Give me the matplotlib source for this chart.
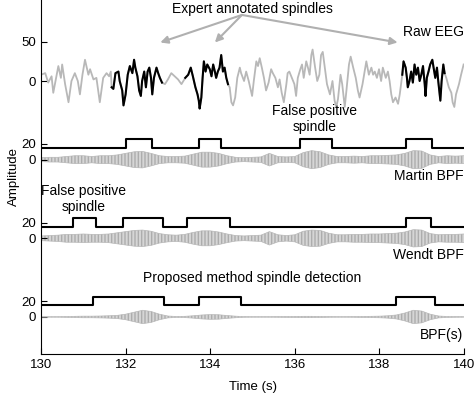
import numpy as np
import matplotlib
matplotlib.use("Agg")
import matplotlib.pyplot as plt

plt.rcParams['font.family'] = ['Liberation Sans', 'DejaVu Sans']
plt.rcParams['hatch.linewidth'] = 1.0

# 生のEEG（読み取り値）
raw_t = [130.00, 130.10, 130.17, 130.25, 130.29, 130.37, 130.41, 130.47, 130.50, 130.57,
         130.65, 130.69, 130.72, 130.80, 130.87, 130.92, 130.98, 131.04, 131.12, 131.16,
         131.24, 131.31, 131.35, 131.39, 131.47, 131.55, 131.61, 131.65, 131.67, 131.71,
         131.76, 131.83, 131.86, 131.92, 131.95, 132.00, 132.05, 132.10, 132.16, 132.20,
         132.23, 132.28, 132.32, 132.36, 132.39, 132.44, 132.48, 132.52, 132.56, 132.60,
         132.63, 132.67, 132.73, 132.77, 132.81, 132.86, 132.93, 133.00, 133.08, 133.16,
         133.24, 133.32, 133.41, 133.48, 133.54, 133.59, 133.65, 133.70, 133.73, 133.75,
         133.79, 133.82, 133.85, 133.89, 133.93, 133.99, 134.03, 134.07, 134.11, 134.14,
         134.18, 134.22, 134.26, 134.30, 134.34, 134.38, 134.42, 134.46, 134.50, 134.54,
         134.59, 134.64, 134.70, 134.73, 134.80, 134.85, 134.91, 134.99, 135.03, 135.09,
         135.13, 135.17, 135.22, 135.27, 135.32, 135.38, 135.44, 135.48, 135.54, 135.60,
         135.64, 135.69, 135.74, 135.80, 135.83, 135.87, 135.93, 135.99, 136.03, 136.07,
         136.13, 136.17, 136.21, 136.27, 136.31, 136.35, 136.39, 136.42, 136.48, 136.53,
         136.58, 136.62, 136.66, 136.71, 136.76, 136.83, 136.89, 136.94, 136.98, 137.02,
         137.08, 137.12, 137.18, 137.22, 137.28, 137.32, 137.38, 137.44, 137.49, 137.53,
         137.60, 137.65, 137.69, 137.75, 137.81, 137.85, 137.89, 137.94, 137.99, 138.04,
         138.08, 138.15, 138.20, 138.24, 138.28, 138.32, 138.38, 138.44, 138.48, 138.52,
         138.54, 138.57, 138.62, 138.65, 138.67, 138.71, 138.75, 138.79, 138.83, 138.87,
         138.91, 138.95, 138.99, 139.03, 139.07, 139.09, 139.12, 139.16, 139.20, 139.25,
         139.28, 139.32, 139.36, 139.39, 139.44, 139.47, 139.51, 139.54, 139.58, 139.64,
         139.70, 139.73, 139.77, 139.81, 139.88, 139.93, 139.99]
raw_v = [8, 10, -2, 6, -15, 8, 19, 4, 21, -4,
         -27, -12, 0, 10, 0, -17, 8, 27, 8, 15,
         2, 4, -12, -27, 4, 10, 6, 12, -8, -10,
         10, 12, 0, -12, -31, -17, 8, 19, 10, 27,
         17, 6, -12, -19, 0, 12, -8, 12, 17, 4,
         -17, 4, 17, 10, 4, -2, -4, 2, 10, 6,
         2, -4, 4, 8, 17, 6, -8, -17, -25, -35,
         -21, 4, 25, 12, 21, 15, 6, 21, 12, 4,
         12, 17, 33, 12, 17, 4, -4, -8, -27, -31,
         -21, 4, 17, 10, 0, 12, 0, -19, 0, 25,
         19, 29, 17, 4, -12, -2, 15, 10, 4, -8,
         2, -15, -27, -4, 10, 12, 4, -4, -19, 4,
         15, 21, 4, 25, 17, 8, 33, 40, 17, 0,
         8, 33, 37, 17, -4, -17, 0, -25, -33, -23,
         8, -4, -33, -12, 21, 31, 17, 4, -12, -21,
         -4, 12, 25, 8, 17, 8, 12, 4, 15, 0,
         17, 4, 12, 0, -17, -27, -21, -29, -17, 0,
         8, 25, 17, 4, -8, 0, 12, -2, 21, 8,
         17, 0, 8, 19, -4, -19, 4, 12, 21, 27,
         17, 4, 17, 0, -25, 0, 21, 10, 4, -8,
         -15, -27, -33, -17, -4, 8, 21]

# 専門家がアノテーションした紡錘波区間
expert = [(131.67, 132.86), (133.41, 134.42), (138.54, 139.54)]

# 各手法の検出区間
martin_det = [(132.00, 132.63), (133.73, 134.25), (136.12, 136.87), (138.62, 139.25)]
wendt_det = [(130.76, 131.30), (131.93, 132.88), (133.46, 134.47), (138.62, 139.23)]
proposed_det = [(131.22, 132.91), (133.74, 134.72), (138.40, 139.32)]

# BPF出力の包絡線（0.2秒ごと, 読み取り値）
env_t = [130.0 + 0.2 * i for i in range(51)]
martin_env = [2.5, 3, 3, 4, 5, 5, 4, 5, 5, 6,
              8, 10, 10.5, 8, 5, 4, 4, 4.5, 7, 9.5,
              9.5, 8, 5, 3, 2.5, 3, 3.5, 8, 4, 3.5,
              4, 9, 11.5, 10, 6, 4, 4, 4.5, 4, 5,
              5, 5.5, 6, 8, 11.5, 11, 6, 4, 5, 4.5, 5]
wendt_env = [3, 3.5, 4, 5, 5, 5.5, 5, 5, 5.5, 7,
             8.5, 10, 10.5, 9, 6, 4.5, 4, 5, 7.5, 9.5,
             9.5, 8, 5.5, 3.5, 3, 3.5, 4, 8.5, 4.5, 3.5,
             4.5, 9, 10.5, 10, 6.5, 4.5, 4.5, 5, 5, 5.5,
             5.5, 6, 6.5, 8, 11, 10.5, 6, 4.5, 5, 5, 5.5]
proposed_env = [0.3, 0.3, 0.3, 0.5, 0.8, 1, 1, 1.2, 1.5, 2,
                3.5, 6, 8.5, 7, 3.5, 1.2, 0.6, 0.8, 1.5, 2.5,
                3, 2.8, 1.8, 1, 0.4, 0.3, 0.3, 0.3, 0.4, 0.5,
                0.6, 0.8, 0.8, 0.6, 0.4, 0.3, 0.3, 0.4, 0.6, 0.8,
                1, 1.5, 2.5, 5, 8.5, 7.5, 3.5, 1.2, 0.6, 0.4, 0.3]

# 各トレースのオフセット
off_raw, off_martin, off_wendt, off_prop = 347, 247, 147, 47
low, high = 15, 26
gray = '#b8b8b8'


def square_wave(intervals, base):
    xs = [130.0]
    ys = [base + low]
    for s, e in intervals:
        xs += [s, s, e, e]
        ys += [base + low, base + high, base + high, base + low]
    xs.append(140.0)
    ys.append(base + low)
    return xs, ys


fig = plt.figure(figsize=(4.74, 3.95), dpi=100)
ax = fig.add_axes([0.0865, 0.104, 0.8925, 0.896])

# 生EEG
rt = np.array(raw_t)
rv = np.array(raw_v) + off_raw
ax.plot(rt, rv, color=gray, lw=1.3)
for s, e in expert:
    m = (rt >= s) & (rt <= e)
    ax.plot(rt[m], rv[m], color='k', lw=1.5)

# BPF出力（縦縞で振動を表現）
et = np.array(env_t)
for env, off in [(martin_env, off_martin), (wendt_env, off_wendt), (proposed_env, off_prop)]:
    env = np.array(env)
    ax.fill_between(et, off - env, off + env, facecolor='#d6d6d6', edgecolor='#adadad',
                    hatch='|||||', lw=0.0)
    ax.plot(et, off + env, color=gray, lw=0.5)
    ax.plot(et, off - env, color=gray, lw=0.5)

# 検出結果
for det, off in [(martin_det, off_martin), (wendt_det, off_wendt), (proposed_det, off_prop)]:
    xs, ys = square_wave(det, off)
    ax.plot(xs, ys, color='k', lw=1.5)

# 注釈
fs = 10
ax.text(135.0, 438, 'Expert annotated spindles', ha='center', va='center', fontsize=fs)
arrow = dict(arrowstyle='-|>', color='#b0b0b0', lw=1.5, mutation_scale=11, shrinkA=0, shrinkB=0)
for tx, ty in [(132.82, 396), (134.11, 396), (138.43, 396)]:
    ax.annotate('', xy=(tx, ty), xytext=(134.75, 431), arrowprops=arrow)
ax.text(139.99, 409, 'Raw EEG', ha='right', va='center', fontsize=fs)
ax.text(136.47, 299, 'False positive\nspindle', ha='center', va='center', fontsize=fs, linespacing=1.15)
ax.text(139.99, 226, 'Martin BPF', ha='right', va='center', fontsize=fs)
ax.text(131.0, 197, 'False positive\nspindle', ha='center', va='center', fontsize=fs, linespacing=1.15)
ax.text(139.99, 126, 'Wendt BPF', ha='right', va='center', fontsize=fs)
ax.text(135.0, 97, 'Proposed method spindle detection', ha='center', va='center', fontsize=fs)
ax.text(139.99, 24, 'BPF(s)', ha='right', va='center', fontsize=fs)

ax.set_xlim(130, 140)
ax.set_ylim(0, 450)
ax.set_xticks(range(130, 141, 2))
ax.set_yticks([off_prop, off_prop + 20, off_wendt, off_wendt + 20,
               off_martin, off_martin + 20, off_raw, off_raw + 50])
ax.set_yticklabels(['0', '20', '0', '20', '0', '20', '0', '50'])
ax.tick_params(direction='in', labelsize=9.5, length=4)
ax.spines['top'].set_visible(False)
ax.spines['right'].set_visible(False)
ax.set_xlabel('Time (s)', fontsize=9.5, labelpad=7)
ax.set_ylabel('Amplitude', fontsize=9.5, labelpad=1)

fig.savefig('out.png', dpi=100)
